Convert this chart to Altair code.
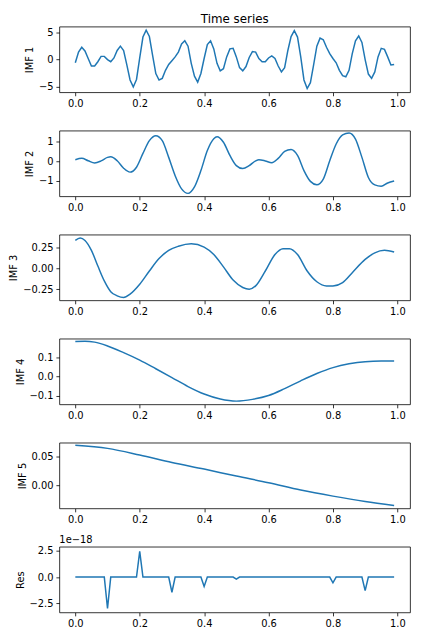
import altair as alt
import pandas as pd

# ---- data ----
imf1_t = [round(i * 0.01, 2) for i in range(100)]
imf1_v = [-0.6, 1.4, 2.3, 1.6, 0.2, -1.2, -1.2, -0.4, 0.6, 0.6,
          0.0, -0.4, 0.3, 1.7, 2.5, 1.7, -1.0, -3.8, -5.1, -3.7,
          0.3, 4.2, 5.5, 4.3, 0.8, -2.6, -3.8, -3.5, -2.0, -0.9,
          -0.2, 0.5, 1.4, 2.9, 3.5, 2.5, -0.7, -3.1, -4.2, -2.6,
          0.2, 2.8, 3.5, 2.0, -0.7, -2.1, -1.7, 0.5, 2.0, 2.1,
          0.5, -1.5, -2.1, -1.3, 0.4, 1.5, 1.4, 0.2, -0.4, -0.4,
          0.3, 0.7, 0.2, -1.2, -2.3, -1.5, 1.7, 4.3, 5.4, 4.2,
          0.5, -3.8, -5.4, -4.3, -1.0, 2.5, 4.0, 3.7, 2.3, 1.1,
          0.2, -0.6, -2.0, -3.0, -3.2, -2.0, 1.1, 3.5, 4.4, 3.2,
          0.0, -2.7, -3.5, -2.3, 0.5, 2.1, 1.9, 0.5, -1.0, -0.9]

imf2_t = [0, 0.02, 0.04, 0.06, 0.08, 0.10, 0.11, 0.13, 0.15, 0.17,
          0.19, 0.21, 0.23, 0.25, 0.27, 0.29, 0.31, 0.33, 0.35, 0.37,
          0.39, 0.41, 0.43, 0.44, 0.46, 0.48, 0.50, 0.52, 0.54, 0.56,
          0.57, 0.59, 0.61, 0.63, 0.65, 0.67, 0.69, 0.71, 0.73, 0.75,
          0.77, 0.79, 0.81, 0.83, 0.85, 0.87, 0.89, 0.91, 0.93, 0.95,
          0.97, 0.99]
imf2_v = [0.08, 0.15, 0.03, -0.08, 0.02, 0.2, 0.23, 0.03, -0.35, -0.55,
          -0.3, 0.4, 1.05, 1.3, 1.05, 0.2, -0.73, -1.4, -1.63, -1.3,
          -0.47, 0.55, 1.15, 1.25, 0.97, 0.3, -0.22, -0.37, -0.22, 0.02,
          0.08, 0.02, -0.07, 0.15, 0.5, 0.6, 0.3, -0.47, -1.02, -1.19,
          -0.9, 0.03, 0.88, 1.34, 1.44, 1.13, 0.2, -0.82, -1.2, -1.27,
          -1.1, -1.0]

imf3_t = [0, 0.015, 0.03, 0.05, 0.07, 0.09, 0.11, 0.13, 0.15, 0.17,
          0.20, 0.23, 0.26, 0.29, 0.32, 0.36, 0.40, 0.43, 0.46, 0.49,
          0.52, 0.54, 0.56, 0.59, 0.62, 0.645, 0.665, 0.69, 0.72, 0.75,
          0.78, 0.80, 0.83, 0.86, 0.90, 0.93, 0.96, 0.99]
imf3_v = [0.34, 0.37, 0.34, 0.22, 0.03, -0.15, -0.28, -0.33, -0.35, -0.31,
          -0.19, -0.03, 0.12, 0.22, 0.27, 0.3, 0.26, 0.17, 0.02, -0.14,
          -0.23, -0.25, -0.21, -0.03, 0.17, 0.24, 0.24, 0.17, -0.03, -0.16,
          -0.21, -0.21, -0.17, -0.05, 0.11, 0.19, 0.22, 0.2]

imf4_t = [0, 0.03, 0.06, 0.10, 0.15, 0.20, 0.25, 0.30, 0.35, 0.40, 0.45,
          0.50, 0.55, 0.60, 0.65, 0.70, 0.75, 0.80, 0.85, 0.90, 0.95, 0.99]
imf4_v = [0.183, 0.185, 0.18, 0.16, 0.125, 0.086, 0.041, -0.005, -0.052,
          -0.091, -0.117, -0.128, -0.119, -0.099, -0.063, -0.022, 0.016,
          0.047, 0.067, 0.078, 0.081, 0.081]

imf5_t = [0, 0.1, 0.2, 0.3, 0.4, 0.5, 0.6, 0.7, 0.8, 0.9, 0.99]
imf5_v = [0.070, 0.0645, 0.053, 0.040, 0.0285, 0.0163, 0.0047, -0.008,
          -0.0186, -0.028, -0.035]

# residual, in units of 1e-18
res_t = [0, 0.09, 0.10, 0.11, 0.19, 0.20, 0.21, 0.29, 0.30, 0.31, 0.39, 0.40,
         0.41, 0.49, 0.50, 0.51, 0.79, 0.80, 0.81, 0.89, 0.90, 0.91, 0.99]
res_v = [0, 0, -3.0, 0, 0, 2.45, 0, 0, -1.45, 0, 0, -0.9, 0, 0, -0.2, 0,
         0, -0.55, 0, 0, -1.3, 0, 0]

x_ticks = [0.0, 0.2, 0.4, 0.6, 0.8, 1.0]

BLUE = "#1f77b4"
W, H = 355, 66.5


def panel(t, v, title, domain, ticks, fmt, interp):
    df = pd.DataFrame({"t": t, "v": v})
    return alt.Chart(df).mark_line(color=BLUE, strokeWidth=1.5, interpolate=interp).encode(
        x=alt.X("t:Q",
                scale=alt.Scale(domain=[-0.0495, 1.0395], nice=False, zero=False),
                axis=alt.Axis(values=x_ticks, format=".1f", title=None, labelFlush=False)),
        y=alt.Y("v:Q",
                scale=alt.Scale(domain=domain, nice=False, zero=False),
                axis=alt.Axis(values=ticks, format=fmt, title=title)),
    ).properties(width=W, height=H)


p1 = panel(imf1_t, imf1_v, "IMF 1", [-6.1, 6.15], [-5, 0, 5], "d", "linear").properties(
    title=alt.TitleParams("Time series", fontSize=12, font="DejaVu Sans",
                          fontWeight="normal", color="black", offset=1))
p2 = panel(imf2_t, imf2_v, "IMF 2", [-1.78, 1.56], [-1, 0, 1], "d", "monotone")
p3 = panel(imf3_t, imf3_v, "IMF 3", [-0.385, 0.41], [-0.25, 0, 0.25], ".2f", "monotone")
p4 = panel(imf4_t, imf4_v, "IMF 4", [-0.145, 0.198], [-0.1, 0, 0.1], ".1f", "monotone")
p5 = panel(imf5_t, imf5_v, "IMF 5", [-0.040, 0.0744], [0.0, 0.05], ".2f", "monotone")
res_line = panel(res_t, res_v, "Res", [-3.37, 2.89], [-2.5, 0, 2.5], ".1f", "linear")
res_offset = alt.Chart(pd.DataFrame({"lbl": ["1e\u221218"]})).mark_text(
    align="left", baseline="bottom", font="DejaVu Sans", fontSize=10, color="black"
).encode(text="lbl:N", x=alt.value(0), y=alt.value(-2))
p6 = alt.layer(res_line, res_offset)

chart = alt.vconcat(
    p1, p2, p3, p4, p5, p6, spacing=38.3, bounds="flush",
    padding={"left": 0, "top": 0, "right": 5, "bottom": 0},
    background="white",
).configure_view(
    stroke="black", strokeWidth=0.8
).configure_axis(
    domain=False, grid=False,
    tickColor="black", tickSize=3.5, tickWidth=0.8,
    labelFont="DejaVu Sans", labelFontSize=10, labelColor="black", labelPadding=3,
    titleFont="DejaVu Sans", titleFontSize=10, titleFontWeight="normal",
    titleColor="black", titlePadding=4,
)

chart.save("out.html", embed_options={"renderer": "svg", "actions": False})
